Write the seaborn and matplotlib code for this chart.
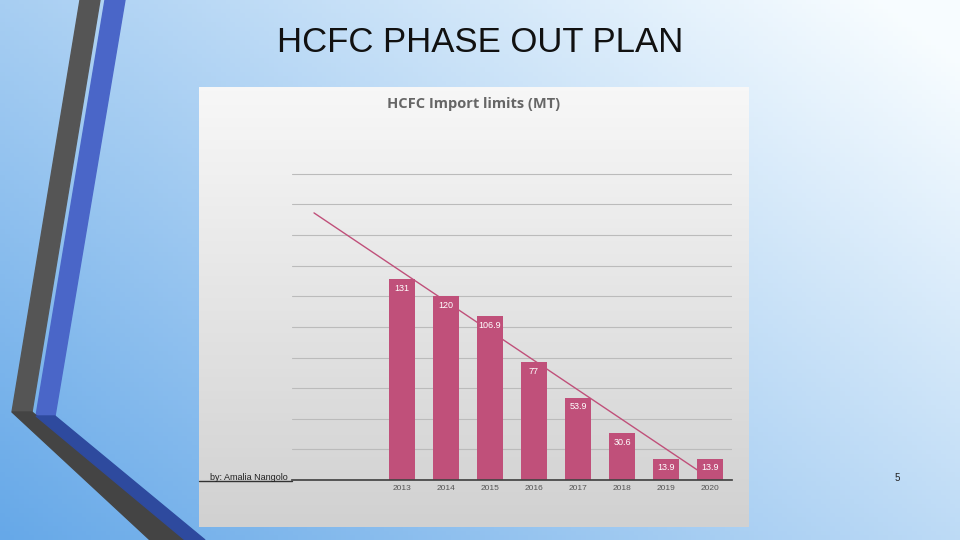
import numpy as np
import pandas as pd
import matplotlib
matplotlib.use("Agg")
import matplotlib.pyplot as plt
import seaborn as sns
from matplotlib.patches import Polygon

years = ["2013", "2014", "2015", "2016", "2017", "2018", "2019", "2020"]
limits = [131, 120, 106.9, 77, 53.9, 30.6, 13.9, 13.9]
order = [" ", "  "] + years
trend_x = [0, 9]
trend_y = [174.5, 1.0]

sns.set_theme(style="white")
plt.rcParams['font.family'] = ['Liberation Sans', 'DejaVu Sans']

fig = plt.figure(figsize=(9.6, 5.4), dpi=100)
bg = fig.add_axes([0, 0, 1, 1])
bg.axis("off")
xx, yy = np.meshgrid(np.linspace(0, 1, 200), np.linspace(0, 1, 120))
grad = np.clip(0.6 * xx + 0.45 * (1 - yy), 0, 1)
c0 = np.array([0.40, 0.66, 0.91]); c1 = np.array([0.97, 0.99, 1.0])
img = c0[None, None, :] * (1 - grad[..., None]) + c1[None, None, :] * grad[..., None]
bg.imshow(img, extent=[0, 960, 540, 0], aspect="auto", zorder=0)
bg.add_patch(Polygon([[80, 0], [100, 0], [32, 412], [12, 412]], closed=True, color="#555555", zorder=1))
bg.add_patch(Polygon([[105, 0], [125, 0], [55, 416], [36, 416]], closed=True, color="#4a66c8", zorder=1))
bg.add_patch(Polygon([[12, 412], [32, 412], [185, 540], [150, 540]], closed=True, color="#444444", zorder=1))
bg.add_patch(Polygon([[36, 416], [55, 416], [205, 540], [185, 540]], closed=True, color="#2e4a9e", zorder=1))
pg = np.linspace(0, 1, 100)[:, None]
panel = np.ones((100, 100, 3)) * (0.97 - 0.15 * pg)[..., None]
bg.imshow(panel, extent=[199, 749, 527, 87], aspect="auto", zorder=2)
bg.set_xlim(0, 960); bg.set_ylim(540, 0)
bg.text(480, 42, "HCFC PHASE OUT PLAN", ha="center", va="center", fontsize=25, color="#111111")
bg.text(474, 104, "HCFC Import limits (MT)", ha="center", va="center", fontsize=10.5,
        fontweight="bold", color="#666666", family=["Open Sans", "DejaVu Sans"])
bg.text(210, 478, "by: Amalia Nangolo", ha="left", va="center", fontsize=6.5, color="#222222")
bg.text(897, 478, "5", ha="center", va="center", fontsize=7, color="#222222")
bg.plot([199, 292], [481, 481], color="#333333", lw=1)

ax = fig.add_axes([292 / 960, 60 / 540, 440 / 960, 330 / 540])
ax.patch.set_alpha(0)
df = pd.DataFrame({"year": years, "limit": limits})
sns.barplot(data=df, x="year", y="limit", order=order, color="#C0507A", saturation=1,
            width=0.6, linewidth=0, ax=ax, zorder=2)
ax.plot(trend_x, trend_y, color="#C0507A", lw=1, zorder=3)
ax.set_ylim(0, 215.6)
ax.set_xlim(-0.5, 9.5)
for i, v in enumerate(limits):
    ax.text(i + 2, v - 3, f"{v:g}", ha="center", va="top", fontsize=6.5, color="white", zorder=4)
ax.set_yticks(range(0, 201, 20))
ax.set_yticklabels([])
ax.yaxis.grid(True, color="#bbbbbb", lw=0.8, zorder=0)
ax.tick_params(axis="x", length=0, labelsize=6, colors="#555555")
ax.tick_params(axis="y", length=0)
ax.set_xlabel(""); ax.set_ylabel("")
for s in ["top", "right", "left"]:
    ax.spines[s].set_visible(False)
ax.spines["bottom"].set_color("#444444")
fig.savefig("out.png", dpi=100)
